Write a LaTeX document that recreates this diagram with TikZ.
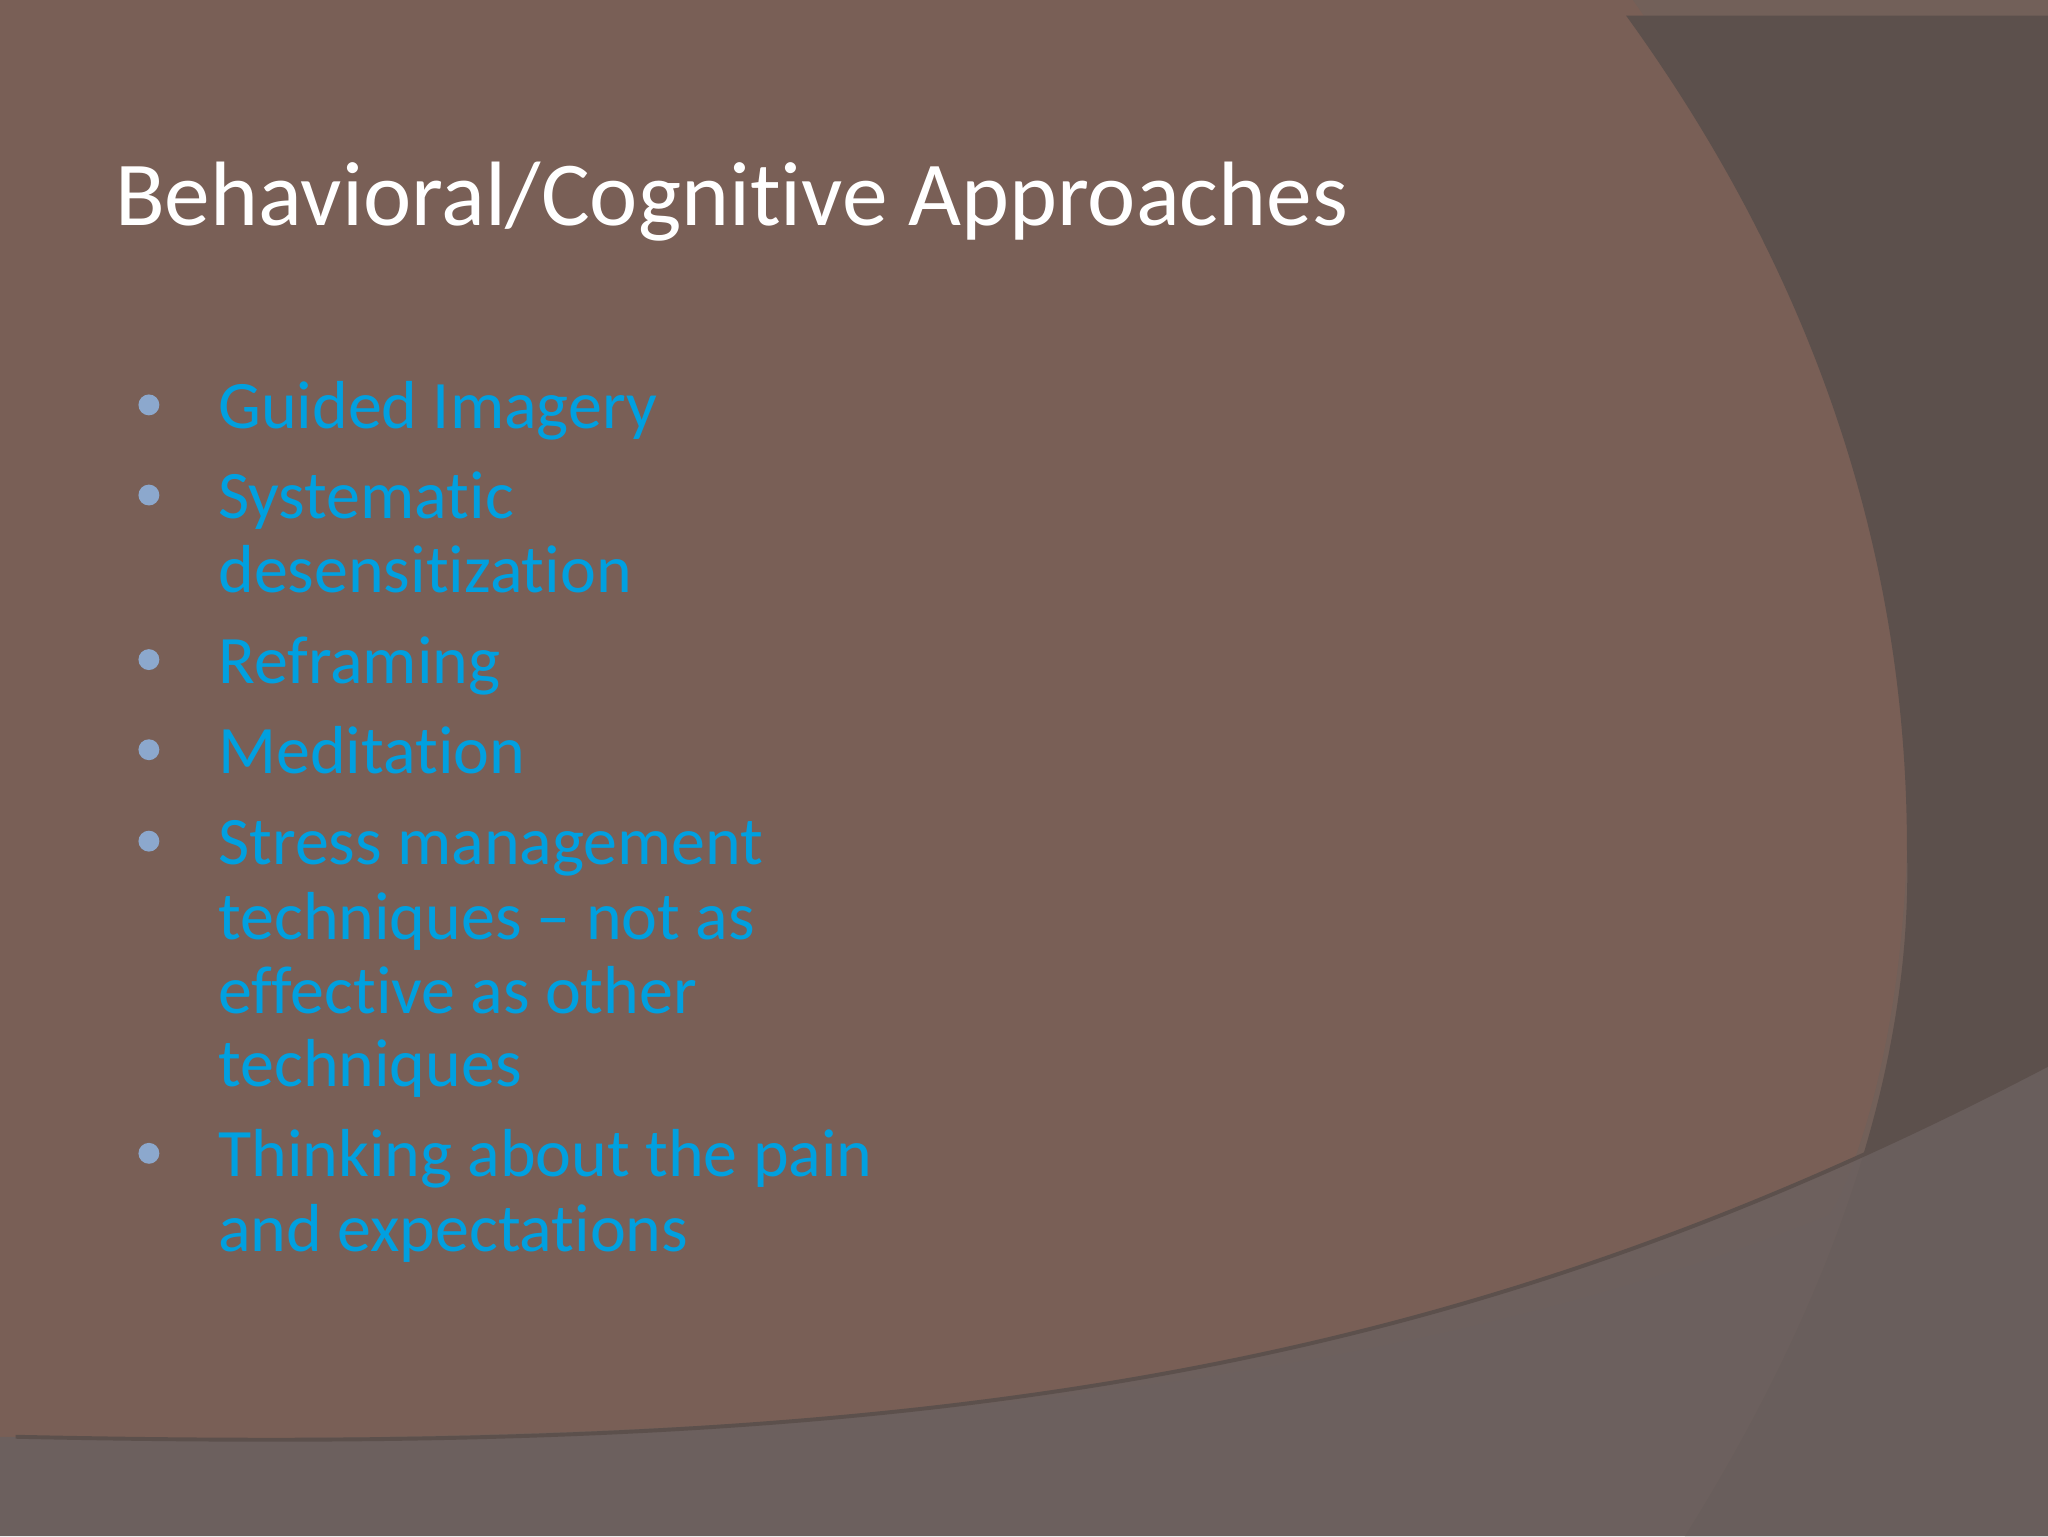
\documentclass[tikz,border=0pt]{standalone}
\usepackage{fontspec}
\setmainfont[Ligatures={NoCommon}]{Carlito}
\definecolor{bgA}{RGB}{114,96,89}
\definecolor{bgArc}{RGB}{121,95,86}
\definecolor{bgDark}{RGB}{92,80,76}
\definecolor{bgLow}{RGB}{108,97,95}
\definecolor{txtblue}{RGB}{0,160,224}
\definecolor{bul}{RGB}{140,168,205}
\begin{document}
\begin{tikzpicture}[x=1pt,y=-1pt,
  item/.style={anchor=base west,inner sep=0pt,font=\fontsize{52}{58}\selectfont,text=txtblue},
  dot/.style={circle,fill=bul,inner sep=0pt,minimum size=16pt}]
\useasboundingbox (0,0) rectangle (1568,1176);
\fill[bgA] (0,0) rectangle (1568,1176);
\fill[bgArc] (0,0) -- (1250,0) .. controls (1420,240) and (1470,460) .. (1460,650)
  .. controls (1455,800) and (1420,900) .. (1400,930) .. controls (1100,1050) and (700,1110) .. (12,1100) -- (0,1100) -- cycle;
\fill[bgDark] (1245,12) -- (1568,12) -- (1568,1176) -- (1290,1176)
  .. controls (1400,1000) and (1465,820) .. (1460,650)
  .. controls (1460,460) and (1410,240) .. cycle;
\fill[bgLow,opacity=0.85] (12,1100) .. controls (700,1115) and (1100,1060) .. (1568,815) -- (1568,1176) -- (0,1176) -- (0,1100) -- cycle;
\draw[bgDark,line width=3pt] (12,1100) .. controls (700,1115) and (1100,1060) .. (1568,815);
\node[anchor=base west,inner sep=0pt,text=white,font=\fontsize{70}{80}\selectfont] (title) at (88,173) {Behavioral/Cognitive Approaches};
\node[dot] (b1) at (114,310) {};
\node[item] (t1) at (167,328) {Guided Imagery};
\node[dot] (b2) at (114,379) {};
\node[item] (t2a) at (167,397) {Systematic};
\node[item] (t2b) at (167,454) {desensitization};
\node[dot] (b3) at (114,505) {};
\node[item] (t3) at (167,523) {Reframing};
\node[dot] (b4) at (114,574) {};
\node[item] (t4) at (167,592) {Meditation};
\node[dot] (b5) at (114,644) {};
\node[item] (t5a) at (167,662) {Stress management};
\node[item] (t5b) at (167,719) {techniques -- not as};
\node[item] (t5c) at (167,776) {effective as other};
\node[item] (t5d) at (167,832) {techniques};
\node[dot] (b6) at (114,883) {};
\node[item] (t6a) at (167,901) {Thinking about the pain};
\node[item] (t6b) at (167,958) {and expectations};
\end{tikzpicture}
\end{document}
